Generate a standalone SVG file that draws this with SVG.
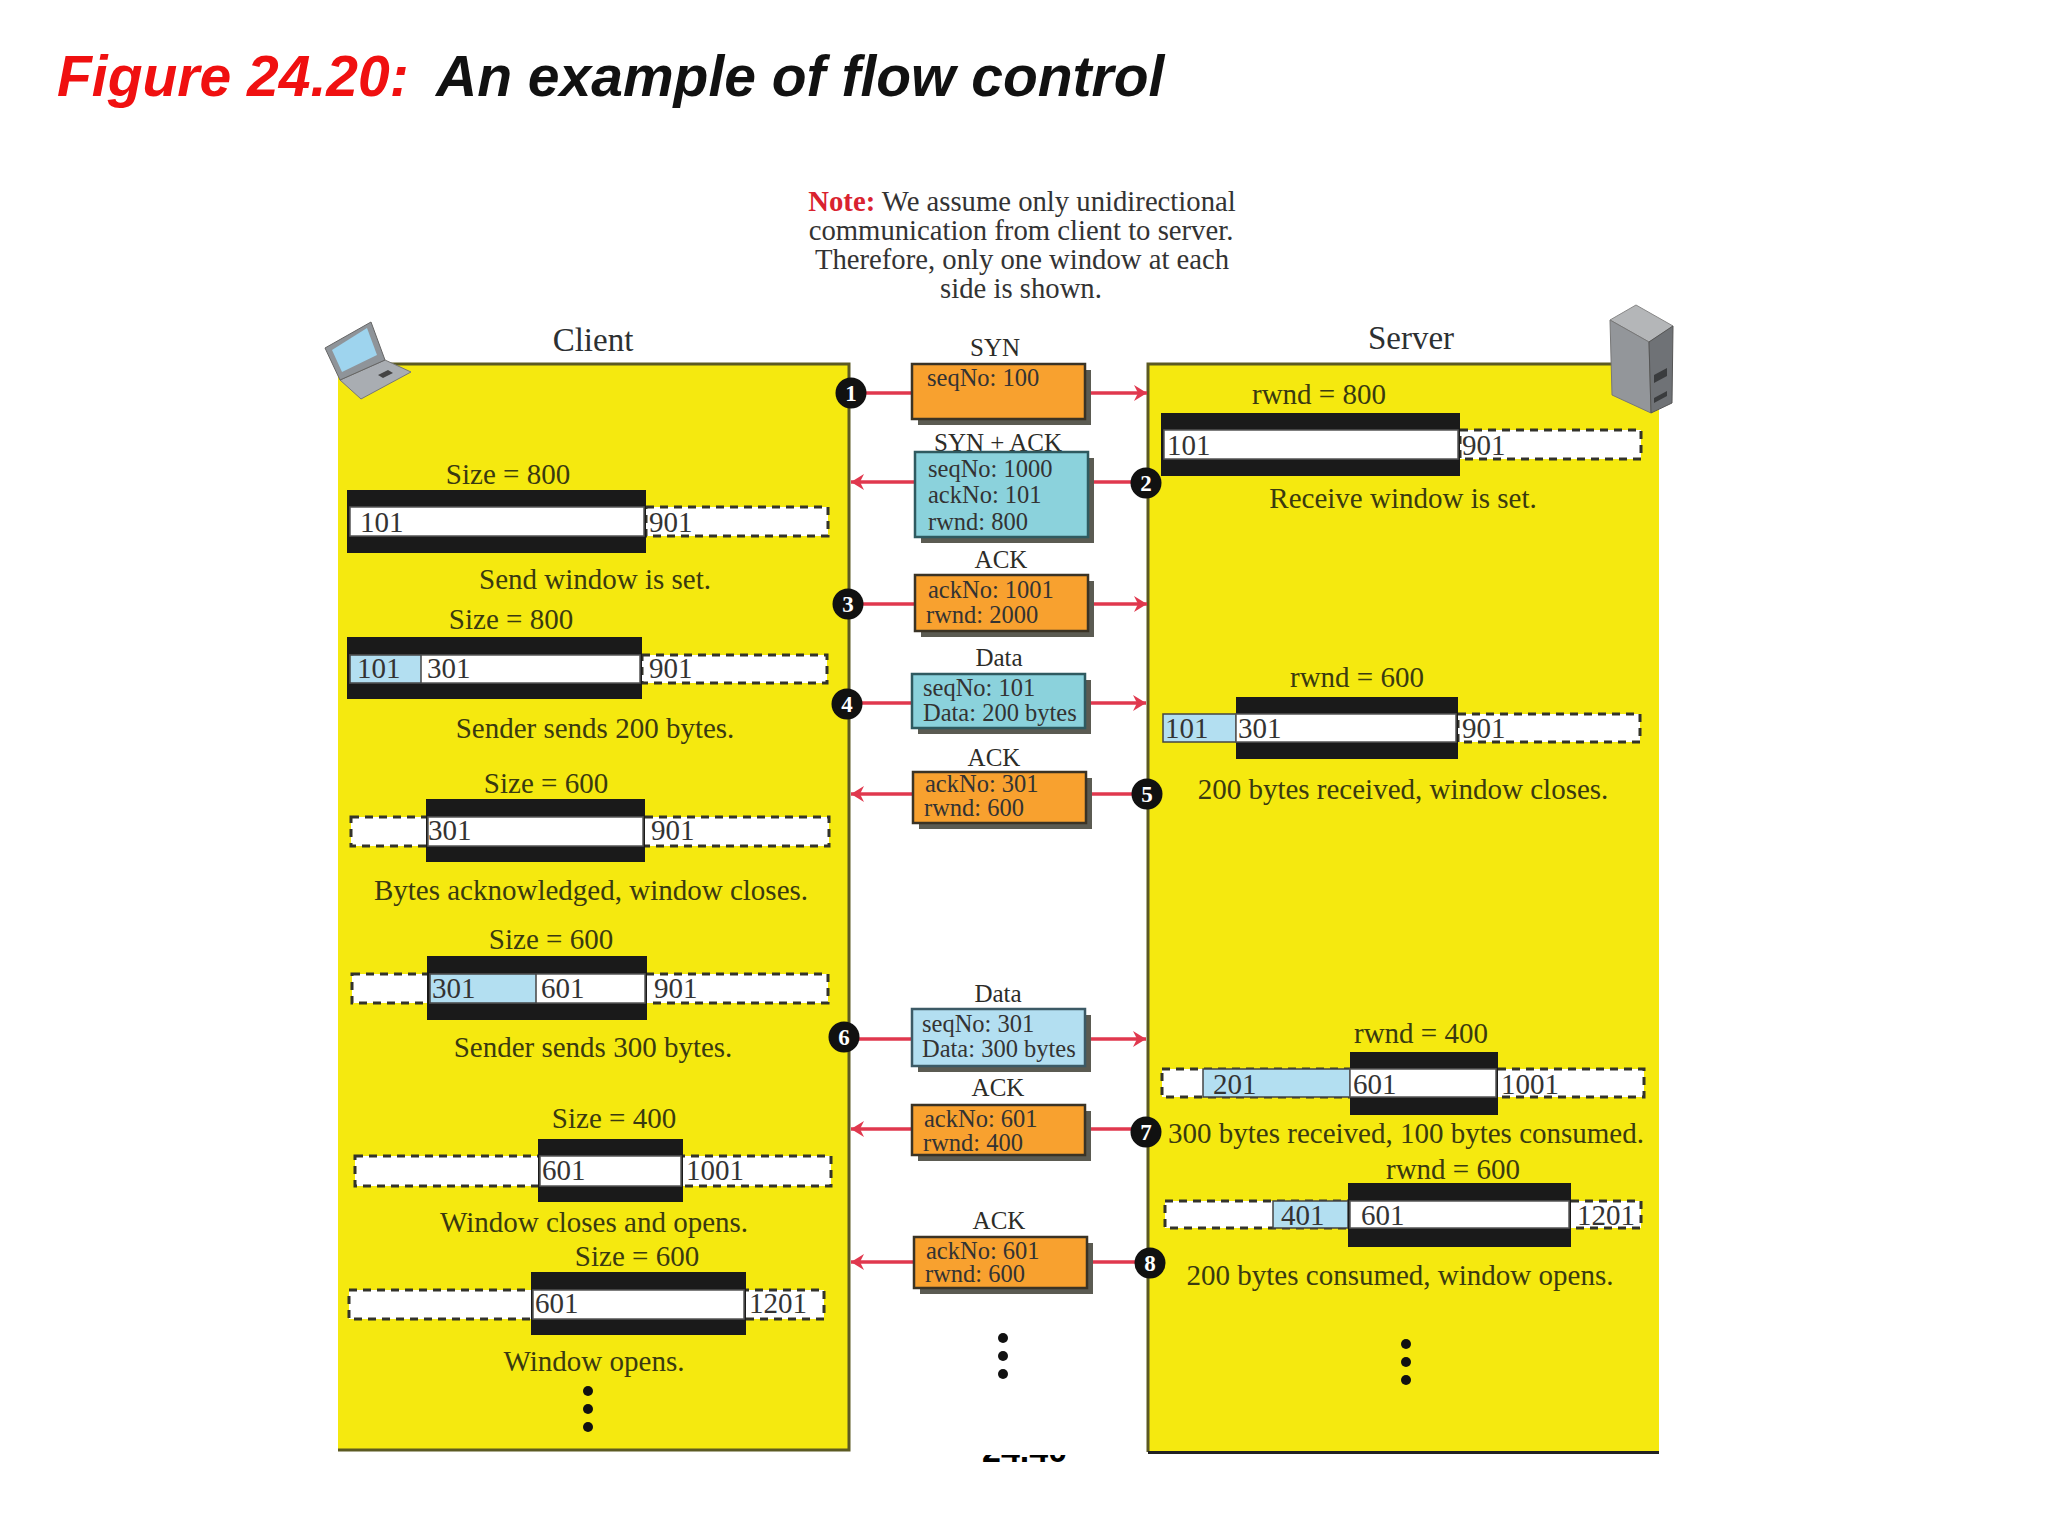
<svg xmlns="http://www.w3.org/2000/svg" width="2048" height="1536" viewBox="0 0 2048 1536">
<style>
text{font-family:"Liberation Serif","Times New Roman",serif;fill:#2a2a20}
.title{font-family:"Liberation Sans",Arial,sans-serif;font-weight:bold;font-style:italic;font-size:57px}
.note{font-size:28.7px;text-anchor:middle;fill:#333}
.hd{font-size:33px;text-anchor:middle;fill:#2c3032}
.sz{font-size:29px;text-anchor:middle;fill:#3a3a10}
.num{font-size:29px;fill:#333}
.lb{font-size:25px;text-anchor:middle;fill:#2c2c28}
.bt{font-size:24.5px;fill:#333}
.panel{fill:#f5e90f}
.edge{fill:none;stroke:#5c5a22;stroke-width:3}
.blk{fill:#1a1a1a}
.dash{fill:#fff;stroke:#33332a;stroke-width:3;stroke-dasharray:8 6}
.win{fill:#fff;stroke:#555;stroke-width:1.5}
.sent{fill:#b3dff1;stroke:#444;stroke-width:1.5}
.shadow{fill:#5b5b52}
.org{fill:#f8a12f;stroke:#3a3325;stroke-width:2.5}
.teal{fill:#8bd2dc;stroke:#2f5a60;stroke-width:2.5}
.sky{fill:#b3dff1;stroke:#3c5a66;stroke-width:2.5}
.conn{stroke:#e0384e;stroke-width:3.5;fill:none}
.badge{fill:#111}
.bn{font-size:23px;font-weight:bold;text-anchor:middle;fill:#fff}
.dot{fill:#111}
</style>
<defs>
<marker id="ah" markerWidth="14" markerHeight="16" refX="13" refY="8" orient="auto" markerUnits="userSpaceOnUse"><path d="M0 0L13 8L0 16L4 8Z" fill="#e0384e"/></marker>
<clipPath id="cut"><rect x="960" y="1455" width="130" height="12"/></clipPath>
</defs>
<rect width="2048" height="1536" fill="#fff"/>
<g id="title"><text class="title" x="57" y="96" style="fill:#f01010">Figure 24.20:</text><text class="title" x="436" y="96" style="fill:#111">An example of flow control</text></g>
<g id="note">
<text class="note" x="1022" y="211"><tspan style="fill:#d9222f;font-weight:bold">Note:</tspan> We assume only unidirectional</text>
<text class="note" x="1021" y="240">communication from client to server.</text>
<text class="note" x="1022" y="269">Therefore, only one window at each</text>
<text class="note" x="1021" y="298">side is shown.</text>
</g>
<g id="client-panel"><rect class="panel" x="338" y="364" width="511" height="1087"/><path class="edge" d="M338 364H849V1450H338"/><text class="hd" x="593" y="351">Client</text></g>
<g id="server-panel"><rect class="panel" x="1148" y="364" width="511" height="1089"/><path class="edge" d="M1659 364H1148V1452"/><path d="M1148 1452.5H1659" fill="none" stroke="#222" stroke-width="3"/><text class="hd" x="1411" y="349">Server</text></g>
<g id="laptop">
<path d="M340 380L385 360L411 372L361 399Z" fill="#a9adb2" stroke="#777"/>
<path d="M325 348L371 322L385 360L340 380Z" fill="#8f9499" stroke="#666"/>
<path d="M332 350L367 328L377 355L342 372Z" fill="#9ed4ee"/>
<path d="M378 375l10-5 5 3-10 5z" fill="#444"/>
</g>
<g id="server-icon">
<path d="M1610 320L1636 305L1673 326L1649 342Z" fill="#b4b6b8" stroke="#888"/>
<path d="M1610 320L1649 342L1651 413L1612 395Z" fill="#93969a" stroke="#777"/>
<path d="M1649 342L1673 326L1672 403L1651 413Z" fill="#6f7276" stroke="#555"/>
<path d="M1654 375l13-7v8l-13 7zM1654 398l13-7v5l-13 7z" fill="#3a3c3e"/>
</g>
<g id="connectors">
<path class="conn" d="M850 393H1147" marker-end="url(#ah)"/>
<path class="conn" d="M1146 482H851" marker-end="url(#ah)"/>
<path class="conn" d="M848 604H1147" marker-end="url(#ah)"/>
<path class="conn" d="M847 703H1146" marker-end="url(#ah)"/>
<path class="conn" d="M1147 794H851" marker-end="url(#ah)"/>
<path class="conn" d="M844 1039H1146" marker-end="url(#ah)"/>
<path class="conn" d="M1146 1129H851" marker-end="url(#ah)"/>
<path class="conn" d="M1150 1262H851" marker-end="url(#ah)"/>
</g>
<g id="msg1"><text class="lb" x="995" y="356">SYN</text><rect class="shadow" x="918" y="370" width="173" height="55"/><rect class="org" x="912" y="364" width="173" height="55"/><text class="bt" x="927" y="386">seqNo: 100</text></g>
<g id="msg2"><text class="lb" x="998" y="451">SYN + ACK</text><rect class="shadow" x="921" y="458" width="173" height="85"/><rect class="teal" x="915" y="452" width="173" height="85"/><text class="bt" x="928" y="477">seqNo: 1000</text><text class="bt" x="928" y="503">ackNo: 101</text><text class="bt" x="928" y="530">rwnd: 800</text></g>
<g id="msg3"><text class="lb" x="1001" y="568">ACK</text><rect class="shadow" x="921" y="581" width="173" height="56"/><rect class="org" x="915" y="575" width="173" height="56"/><text class="bt" x="928" y="598">ackNo: 1001</text><text class="bt" x="926" y="623">rwnd: 2000</text></g>
<g id="msg4"><text class="lb" x="999" y="666">Data</text><rect class="shadow" x="918" y="680" width="173" height="54"/><rect class="teal" x="912" y="674" width="173" height="54"/><text class="bt" x="923" y="696">seqNo: 101</text><text class="bt" x="923" y="721">Data: 200 bytes</text></g>
<g id="msg5"><text class="lb" x="994" y="766">ACK</text><rect class="shadow" x="919" y="778" width="173" height="51"/><rect class="org" x="913" y="772" width="173" height="51"/><text class="bt" x="925" y="792">ackNo: 301</text><text class="bt" x="924" y="816">rwnd: 600</text></g>
<g id="msg6"><text class="lb" x="998" y="1002">Data</text><rect class="shadow" x="918" y="1015" width="173" height="57"/><rect class="sky" x="912" y="1009" width="173" height="57"/><text class="bt" x="922" y="1032">seqNo: 301</text><text class="bt" x="922" y="1057">Data: 300 bytes</text></g>
<g id="msg7"><text class="lb" x="998" y="1096">ACK</text><rect class="shadow" x="918" y="1111" width="173" height="50"/><rect class="org" x="912" y="1105" width="173" height="50"/><text class="bt" x="924" y="1127">ackNo: 601</text><text class="bt" x="923" y="1151">rwnd: 400</text></g>
<g id="msg8"><text class="lb" x="999" y="1229">ACK</text><rect class="shadow" x="920" y="1243" width="173" height="51"/><rect class="org" x="914" y="1237" width="173" height="51"/><text class="bt" x="926" y="1259">ackNo: 601</text><text class="bt" x="925" y="1282">rwnd: 600</text></g>
<g id="badges">
<circle class="badge" cx="851" cy="393" r="15.5"/><text class="bn" x="851" y="401">1</text>
<circle class="badge" cx="1146" cy="483" r="15.5"/><text class="bn" x="1146" y="491">2</text>
<circle class="badge" cx="848" cy="604" r="15.5"/><text class="bn" x="848" y="612">3</text>
<circle class="badge" cx="847" cy="704" r="15.5"/><text class="bn" x="847" y="712">4</text>
<circle class="badge" cx="1147" cy="794" r="15.5"/><text class="bn" x="1147" y="802">5</text>
<circle class="badge" cx="844" cy="1037" r="15.5"/><text class="bn" x="844" y="1045">6</text>
<circle class="badge" cx="1146" cy="1132" r="15.5"/><text class="bn" x="1146" y="1140">7</text>
<circle class="badge" cx="1150" cy="1263" r="15.5"/><text class="bn" x="1150" y="1271">8</text>
</g>
<g id="c-win1"><text class="sz" x="508" y="484">Size = 800</text><rect class="dash" x="646" y="507" width="182" height="29"/><rect class="blk" x="347" y="490" width="299" height="63"/><rect class="win" x="350" y="507" width="294" height="29"/><text class="num" x="360" y="532">101</text><text class="num" x="649" y="532">901</text><text class="sz" x="595" y="589">Send window is set.</text></g>
<g id="c-win2"><text class="sz" x="511" y="629">Size = 800</text><rect class="dash" x="642" y="655" width="185" height="28"/><rect class="blk" x="347" y="637" width="295" height="62"/><rect class="win" x="350" y="655" width="290" height="28"/><rect class="sent" x="350" y="655" width="71" height="28"/><text class="num" x="357" y="678">101</text><text class="num" x="427" y="678">301</text><text class="num" x="649" y="678">901</text><text class="sz" x="595" y="738">Sender sends 200 bytes.</text></g>
<g id="c-win3"><text class="sz" x="546" y="793">Size = 600</text><rect class="dash" x="351" y="817" width="478" height="29"/><rect class="blk" x="426" y="799" width="219" height="63"/><rect class="win" x="428" y="817" width="215" height="29"/><text class="num" x="428" y="840">301</text><text class="num" x="651" y="840">901</text><text class="sz" x="591" y="900">Bytes acknowledged, window closes.</text></g>
<g id="c-win4"><text class="sz" x="551" y="949">Size = 600</text><rect class="dash" x="352" y="974" width="476" height="29"/><rect class="blk" x="427" y="956" width="220" height="64"/><rect class="win" x="430" y="974" width="215" height="29"/><rect class="sent" x="430" y="974" width="106" height="29"/><text class="num" x="432" y="998">301</text><text class="num" x="541" y="998">601</text><text class="num" x="654" y="998">901</text><text class="sz" x="593" y="1057">Sender sends 300 bytes.</text></g>
<g id="c-win5"><text class="sz" x="614" y="1128">Size = 400</text><rect class="dash" x="355" y="1156" width="476" height="30"/><rect class="blk" x="538" y="1139" width="145" height="63"/><rect class="win" x="540" y="1156" width="141" height="30"/><text class="num" x="542" y="1180">601</text><text class="num" x="686" y="1180">1001</text><text class="sz" x="594" y="1232">Window closes and opens.</text></g>
<g id="c-win6"><text class="sz" x="637" y="1266">Size = 600</text><rect class="dash" x="349" y="1290" width="475" height="29"/><rect class="blk" x="531" y="1272" width="215" height="63"/><rect class="win" x="533" y="1290" width="211" height="29"/><text class="num" x="535" y="1313">601</text><text class="num" x="749" y="1313">1201</text><text class="sz" x="594" y="1371">Window opens.</text></g>
<g id="s-win1"><text class="sz" x="1319" y="404">rwnd = 800</text><rect class="dash" x="1460" y="430" width="181" height="29"/><rect class="blk" x="1161" y="413" width="299" height="63"/><rect class="win" x="1164" y="430" width="294" height="29"/><text class="num" x="1167" y="455">101</text><text class="num" x="1462" y="455">901</text><text class="sz" x="1403" y="508">Receive window is set.</text></g>
<g id="s-win2"><text class="sz" x="1357" y="687">rwnd = 600</text><rect class="dash" x="1458" y="714" width="182" height="28"/><rect class="sent" x="1163" y="714" width="73" height="28"/><rect class="blk" x="1236" y="697" width="222" height="62"/><rect class="win" x="1236" y="714" width="220" height="28"/><text class="num" x="1165" y="738">101</text><text class="num" x="1238" y="738">301</text><text class="num" x="1462" y="738">901</text><text class="sz" x="1403" y="799">200 bytes received, window closes.</text></g>
<g id="s-win3"><text class="sz" x="1421" y="1043">rwnd = 400</text><rect class="dash" x="1162" y="1069" width="482" height="28"/><rect class="sent" x="1203" y="1069" width="147" height="28"/><rect class="blk" x="1350" y="1052" width="148" height="63"/><rect class="win" x="1350" y="1069" width="146" height="28"/><text class="num" x="1213" y="1094">201</text><text class="num" x="1353" y="1094">601</text><text class="num" x="1501" y="1094">1001</text><text class="sz" x="1406" y="1143">300 bytes received, 100 bytes consumed.</text></g>
<g id="s-win4"><text class="sz" x="1453" y="1179">rwnd = 600</text><rect class="dash" x="1165" y="1201" width="476" height="27"/><rect class="sent" x="1273" y="1201" width="75" height="27"/><rect class="blk" x="1348" y="1183" width="223" height="64"/><rect class="win" x="1350" y="1201" width="219" height="27"/><text class="num" x="1281" y="1225">401</text><text class="num" x="1361" y="1225">601</text><text class="num" x="1577" y="1225">1201</text><text class="sz" x="1400" y="1285">200 bytes consumed, window opens.</text></g>
<g id="ellipses">
<circle class="dot" cx="588" cy="1391" r="5"/><circle class="dot" cx="588" cy="1409" r="5"/><circle class="dot" cx="588" cy="1427" r="5"/>
<circle class="dot" cx="1003" cy="1338" r="5"/><circle class="dot" cx="1003" cy="1356" r="5"/><circle class="dot" cx="1003" cy="1374" r="5"/>
<circle class="dot" cx="1406" cy="1344" r="5"/><circle class="dot" cx="1406" cy="1362" r="5"/><circle class="dot" cx="1406" cy="1380" r="5"/>
</g>
<g id="page-number" clip-path="url(#cut)"><text x="982" y="1462" style="font-family:'Liberation Sans',Arial,sans-serif;font-weight:bold;font-size:34px;fill:#000">24.40</text></g>
</svg>
